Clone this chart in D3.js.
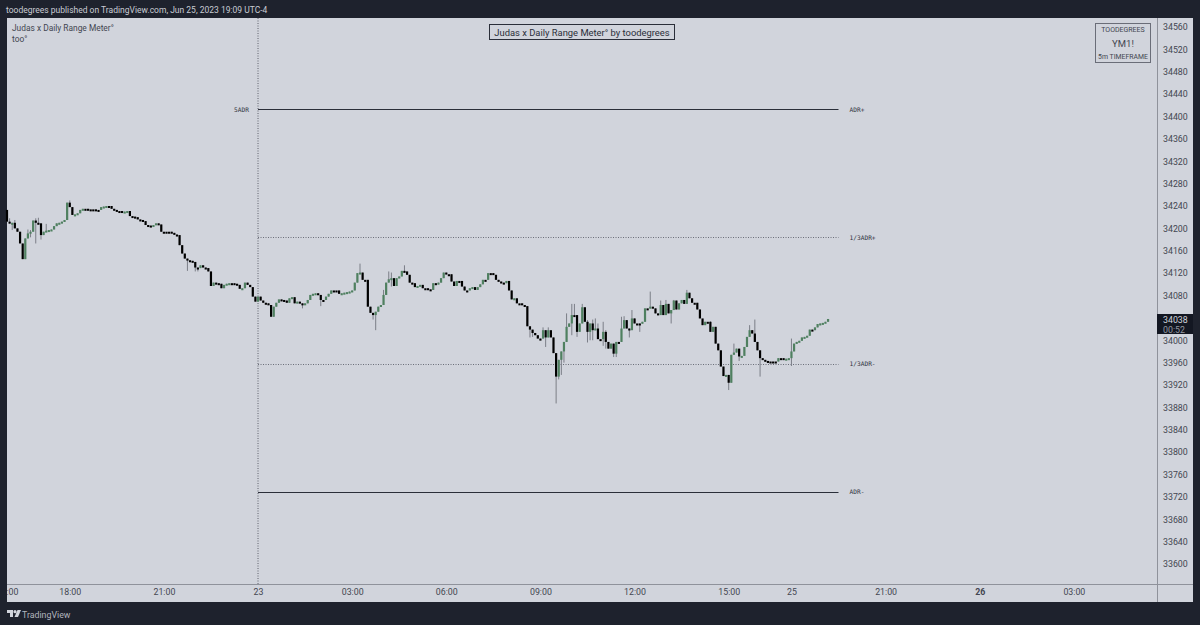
<!DOCTYPE html>
<html>
<head>
<meta charset="utf-8">
<script src="https://cdnjs.cloudflare.com/ajax/libs/d3/7.8.5/d3.min.js"></script>
<style>
    html, body { margin: 0; padding: 0; background: #1e222d; }
    svg { display: block; font-family: Roboto, sans-serif; }
    .price-axis text, .time-axis text { fill: #434651; font-size: 8.8px; font-family: Roboto, sans-serif; }
    .level-label { fill: #2f323c; font-size: 6.2px; font-family: "DejaVu Sans Mono", monospace; }
</style>
</head>
<body>
<svg id="chart" width="1200" height="625"></svg>
<script>
const firstOpen = 34233;

// 5m closes, each bar opens on the close before it
const closes = [
    34212,34209,34210,34200,34194,34173,34145,34182,34191,34194,
    34214,34210,34209,34188,34194,34196,34197,34198,34204,34209,
    34210,34212,34215,34246,34238,34224,34225,34227,34233,34235,
    34235,34234,34234,34234,34233,34233,34238,34239,34240,34240,
    34235,34233,34231,34231,34229,34230,34231,34222,34221,34220,
    34216,34215,34213,34206,34205,34204,34206,34209,34207,34194,
    34194,34194,34194,34192,34189,34188,34170,34155,34146,34143,
    34142,34140,34130,34129,34134,34130,34129,34123,34097,34103,
    34102,34101,34093,34099,34101,34102,34102,34101,34099,34092,
    34093,34103,34099,34095,34078,34069,34078,34071,34067,34066,
    34063,34042,34060,34067,34073,34072,34071,34067,34075,34077,34066,34069,
    34066,34063,34066,34072,34081,34083,34084,34081,34072,34072,
    34078,34083,34089,34089,34089,34083,34084,34085,34086,34087,
    34089,34103,34120,34121,34108,34108,34060,34049,34045,34051,
    34060,34063,34081,34103,34109,34111,34097,34111,34114,34124,
    34123,34117,34103,34102,34095,34097,34099,34093,34093,34091,
    34090,34102,34100,34103,34111,34121,34118,34118,34105,34097,
    34106,34106,34096,34089,34089,34093,34095,34090,34095,34100,
    34108,34108,34120,34120,34117,34108,34105,34103,34102,34106,
    34089,34073,34075,34066,34066,34063,34061,34025,34019,34013,
    34009,34003,34003,34018,34005,34018,34005,33977,33935,33965,
    33980,33997,34024,34030,34045,34045,34015,34030,34059,34033,
    34015,34030,34018,34021,34002,34002,34015,33997,33985,33994,
    33976,33997,33997,34021,34036,34021,34018,34039,34030,34030,
    34030,34033,34057,34057,34060,34057,34048,34045,34063,34045,
    34065,34048,34054,34071,34055,34066,34072,34065,34085,34075,
    34067,34067,34055,34039,34027,34033,34033,34015,34024,33994,
    33982,33953,33936,33938,33924,33974,33978,33985,33971,33972,
    33988,34006,34018,34012,33997,33982,33968,33965,33963,33962,
    33962,33962,33962,33968,33968,33966,33967,33968,33980,33994,
    33997,33999,34005,34006,34008,34019,34018,34023,34029,34030,
    34031,34033,34038
];

// only the bars whose wicks stick out visibly
const highBars = [1,3,8,9,11,12,15,24,135,144,146,147,152,205,207,208,214,216,217,220,222,224,225,226,228,229,235,236,239,246,250,252,255,260,266,269,278,284,286,300];
const highPrices = [34218,34215,34198,34197,34218,34219,34208,34250,34137,34090,34123,34121,34134,34023,34023,34010,34048,34065,34065,34065,34036,34037,34039,34030,34033,34018,34042,34043,34054,34087,34071,34072,34072,34090,34036,34034,33994,34027,34037,34003];
const lowBars = [2,5,9,11,13,69,72,73,113,120,140,141,147,200,201,204,206,210,211,212,213,214,216,218,222,223,224,228,229,232,233,238,242,254,276,280,282,288,300];
const lowPrices = [34197,34179,34184,34173,34180,34124,34123,34123,34057,34061,34037,34018,34096,34005,34006,34000,33988,33887,33930,33938,33960,33997,34009,34006,33996,34000,34000,33990,33985,33970,33970,34005,34015,34030,33911,33963,33975,33935,33954];

const priceTicks = [34560,34520,34480,34440,34400,34360,34320,34280,34240,34200,34160,34120,34080,34040,34000,33960,33920,33880,33840,33800,33760,33720,33680,33640,33600];
const timeBars = [0,24,60,96,132,168,204,240,276,300,336,372,408];
const timeLabels = ["15:00","18:00","21:00","23","03:00","06:00","09:00","12:00","15:00","25","21:00","26","03:00"];

const levelNames = ["ADR+","1/3ADR+","1/3ADR-","ADR-"];
const levelPrices = [34413,34184,33958,33729];
const levelDash = [null,"1,1.5","1,1.5",null];
const sessionBar = 96;
const levelEndBar = 318;

const svg = d3.select("#chart");
const pane = {left: 7, right: 1157, top: 18, bottom: 584};

const x = d3.scaleLinear().domain([0, 439.8]).range([pane.left, pane.right]);
const y = d3.scaleLinear().domain([33600, 34560]).range([564, 27]);

svg.append("rect").attr("width", 1200).attr("height", 625).attr("fill", "#1e222d");
svg.append("rect").attr("x", pane.left).attr("y", pane.top).attr("width", 1186).attr("height", 584)
    .attr("fill", "#d1d4dc");

let defs = svg.append("defs");
defs.append("clipPath").attr("id", "time-clip").append("rect")
    .attr("x", pane.left).attr("y", pane.bottom).attr("width", pane.right - pane.left).attr("height", 18);

// axes borders
svg.append("line").attr("x1", pane.left).attr("x2", 1193).attr("y1", pane.bottom + 0.5).attr("y2", pane.bottom + 0.5)
    .attr("stroke", "#8f929b").attr("stroke-width", 1);
svg.append("line").attr("x1", pane.right + 0.5).attr("x2", pane.right + 0.5).attr("y1", pane.top).attr("y2", 602)
    .attr("stroke", "#8f929b").attr("stroke-width", 1);

// session start line
svg.append("line").attr("x1", x(sessionBar)).attr("x2", x(sessionBar)).attr("y1", pane.top).attr("y2", pane.bottom)
    .attr("stroke", "#5d606b").attr("stroke-width", 1).attr("stroke-dasharray", "1,1.5");

// levels
levelPrices.forEach(function (price, i) {
    svg.append("line")
        .attr("x1", x(sessionBar)).attr("x2", x(levelEndBar))
        .attr("y1", Math.round(y(price)) + 0.5).attr("y2", Math.round(y(price)) + 0.5)
        .attr("stroke", levelDash[i] ? "#6a6d78" : "#2a2e39")
        .attr("stroke-width", 1)
        .attr("stroke-dasharray", levelDash[i]);
    svg.append("text").attr("class", "level-label")
        .attr("x", x(levelEndBar) + 11).attr("y", y(price) + 2.5)
        .text(levelNames[i]);
});
svg.append("text").attr("class", "level-label")
    .attr("x", x(sessionBar) - 9).attr("y", y(levelPrices[0]) + 2.5).attr("text-anchor", "end")
    .text("5ADR");

// candles
const bars = closes.map(function (close, i) {
    let open = i === 0 ? firstOpen : closes[i - 1];
    let highIdx = highBars.indexOf(i);
    let lowIdx = lowBars.indexOf(i);
    return {
        i: i,
        open: open,
        close: close,
        high: highIdx >= 0 ? highPrices[highIdx] : Math.max(open, close),
        low: lowIdx >= 0 ? lowPrices[lowIdx] : Math.min(open, close)
    };
});

svg.append("g").selectAll("line").data(bars).join("line")
    .attr("x1", d => x(d.i)).attr("x2", d => x(d.i))
    .attr("y1", d => y(d.high)).attr("y2", d => y(d.low))
    .attr("stroke", "#7b7e87").attr("stroke-width", 1);

svg.append("g").selectAll("rect").data(bars).join("rect")
    .attr("x", d => x(d.i) - 1.1)
    .attr("width", 2.2)
    .attr("y", d => y(Math.max(d.open, d.close)))
    .attr("height", d => Math.max(2, Math.abs(y(d.open) - y(d.close))))
    .attr("fill", d => d.close > d.open ? "#4f8060" : "#000000");

// price axis
let priceAxis = svg.append("g").attr("class", "price-axis")
    .attr("transform", "translate(" + (pane.right + 1) + ",0)")
    .call(d3.axisRight(y).tickValues(priceTicks).tickSize(0).tickPadding(5).tickFormat(d3.format("d")));
priceAxis.select(".domain").remove();
// the tag sits on top of this label
priceAxis.selectAll(".tick").filter(d => d === 34040).remove();

// time axis
let timeAxis = svg.append("g").attr("clip-path", "url(#time-clip)").append("g").attr("class", "time-axis")
    .attr("transform", "translate(0," + pane.bottom + ")")
    .call(d3.axisBottom(x).tickValues(timeBars).tickSize(0).tickPadding(5)
        .tickFormat((d, i) => timeLabels[i]));
timeAxis.select(".domain").remove();
timeAxis.selectAll("text").attr("font-weight", (d, i) => timeLabels[i] === "26" ? 700 : 400);

// last price tag
const lastPrice = closes[closes.length - 1];
svg.append("rect").attr("x", pane.right).attr("y", 314).attr("width", 36).attr("height", 20).attr("fill", "#131722");
svg.append("text").attr("x", pane.right + 6).attr("y", 323)
    .attr("fill", "#d1d4dc").attr("font-size", 8.8).text(lastPrice);
svg.append("text").attr("x", pane.right + 6).attr("y", 332.5)
    .attr("fill", "#9598a1").attr("font-size", 8.8).text("00:52");

// header and legend
svg.append("text").attr("x", 6).attr("y", 13).attr("fill", "#c9ccd4").attr("font-size", 8.5)
    .text("toodegrees published on TradingView.com, Jun 25, 2023 19:09 UTC-4");
svg.append("text").attr("x", 12).attr("y", 31).attr("fill", "#434651").attr("font-size", 8.4)
    .text("Judas x Daily Range Meter°");
svg.append("text").attr("x", 12).attr("y", 42).attr("fill", "#434651").attr("font-size", 8.4)
    .text("too°");

// title box
svg.append("rect").attr("x", 489.5).attr("y", 24.5).attr("width", 185).attr("height", 15)
    .attr("fill", "none").attr("stroke", "#2a2e39");
svg.append("text").attr("x", 582).attr("y", 35.5).attr("text-anchor", "middle").attr("fill", "#2a2e39").attr("font-size", 9.4)
    .text("Judas x Daily Range Meter° by toodegrees");

// symbol box
svg.append("rect").attr("x", 1095.5).attr("y", 23.5).attr("width", 55).attr("height", 39)
    .attr("fill", "none").attr("stroke", "#6a6d78");
const boxLines = ["TOODEGREES", "YM1!", "5m TIMEFRAME"];
const boxSizes = [7, 9.5, 6.9];
const boxY = [32, 47, 59];
boxLines.forEach(function (line, i) {
    svg.append("text").attr("x", 1123).attr("y", boxY[i]).attr("text-anchor", "middle")
        .attr("fill", "#434651").attr("font-size", boxSizes[i]).text(line);
});

// footer logo
let logo = svg.append("g").attr("transform", "translate(7,610)").attr("fill", "#d1d4dc");
logo.append("path").attr("d", "M0 0H6V7H3V3H0Z");
logo.append("circle").attr("cx", 8).attr("cy", 1.7).attr("r", 1.6);
logo.append("path").attr("d", "M10.5 0H14L11 7H7.5Z");
svg.append("text").attr("x", 22).attr("y", 618).attr("fill", "#b2b5be").attr("font-size", 8.8).text("TradingView");
</script>
</body>
</html>
